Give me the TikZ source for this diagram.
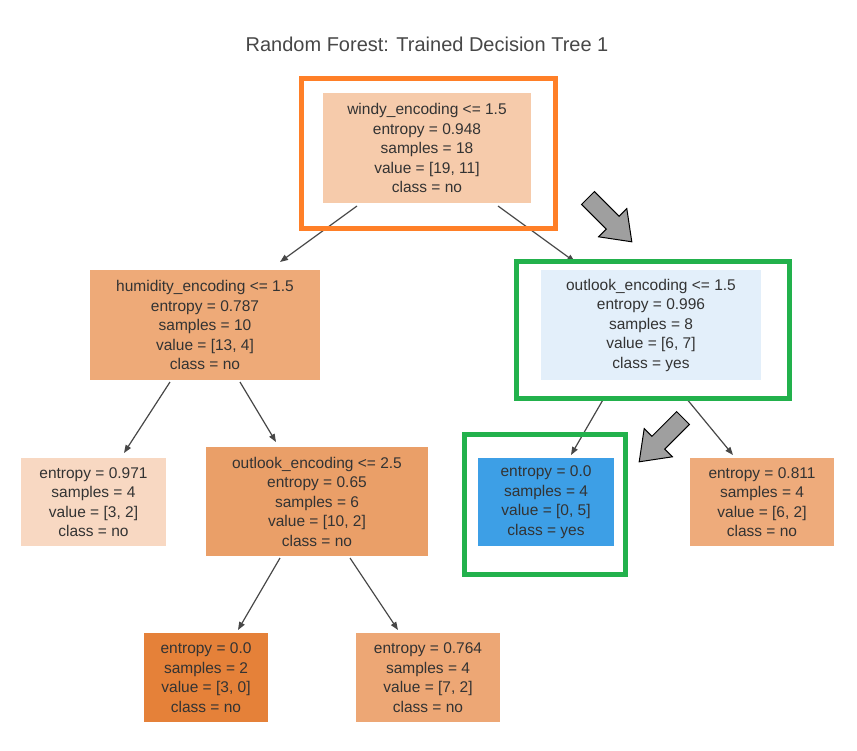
\documentclass[tikz,border=0pt]{standalone}
\usepackage{fontspec}
\setmainfont{Liberation Sans}
\usetikzlibrary{arrows.meta}
\definecolor{txt}{HTML}{333333}
\definecolor{cRoot}{HTML}{F6CBAB}
\definecolor{cHum}{HTML}{EEAA78}
\definecolor{cOut}{HTML}{E3EFFA}
\definecolor{cL1}{HTML}{F8D8C2}
\definecolor{cO25}{HTML}{EA9F68}
\definecolor{cYes}{HTML}{3D9FE6}
\definecolor{cL811}{HTML}{EEAB7B}
\definecolor{cB1}{HTML}{E58139}
\definecolor{cB2}{HTML}{EDA775}
\definecolor{frO}{HTML}{FF7F27}
\definecolor{frG}{HTML}{22B14C}
\tikzset{
 tnode/.style={inner sep=0pt,align=center,text=txt,font=\fontsize{15.5}{19.5}\selectfont},
 edge/.style={draw=txt!90,line width=1.2pt,-{Stealth[length=8pt,width=6pt,inset=0pt]}},
 frame/.style={line width=5pt},
 garrow/.style={fill=gray!75,draw=black,line width=1pt,line join=miter}
}
\begin{document}
\begin{tikzpicture}[x=1pt,y=-1pt]
\useasboundingbox (0,0) rectangle (857,750);
\node[font=\fontsize{20}{24}\selectfont,text=txt!90] (title) at (427,44) {Random Forest: Trained Decision Tree 1};
\newcommand{\tbox}[6]{%
 \fill[#6] (#1,#2) rectangle (#3,#4);
 \node[tnode] (#5) at ({(#1+#3)/2},{(#2+#4)/2}) {};}
\tbox{323}{93}{531}{203}{root}{cRoot}
\tbox{90}{270}{320}{380}{hum}{cHum}
\tbox{541}{270}{761}{380}{out}{cOut}
\tbox{21}{458}{166}{546}{la}{cL1}
\tbox{206}{447}{428}{556}{oo}{cO25}
\tbox{478}{458}{614}{546}{ly}{cYes}
\tbox{690}{458}{834}{546}{lb}{cL811}
\tbox{144}{633}{268}{722}{ba}{cB1}
\tbox{356}{633}{500}{722}{bb}{cB2}
\node[tnode] at (root) {windy\_encoding <= 1.5\\entropy = 0.948\\samples = 18\\value = [19, 11]\\class = no};
\node[tnode] at (hum) {humidity\_encoding <= 1.5\\entropy = 0.787\\samples = 10\\value = [13, 4]\\class = no};
\node[tnode] at (out) {outlook\_encoding <= 1.5\\entropy = 0.996\\samples = 8\\value = [6, 7]\\class = yes};
\node[tnode] at (la) {entropy = 0.971\\samples = 4\\value = [3, 2]\\class = no};
\node[tnode] at (oo) {outlook\_encoding <= 2.5\\entropy = 0.65\\samples = 6\\value = [10, 2]\\class = no};
\node[tnode] at (ly) {entropy = 0.0\\samples = 4\\value = [0, 5]\\class = yes};
\node[tnode] at (lb) {entropy = 0.811\\samples = 4\\value = [6, 2]\\class = no};
\node[tnode] at (ba) {entropy = 0.0\\samples = 2\\value = [3, 0]\\class = no};
\node[tnode] at (bb) {entropy = 0.764\\samples = 4\\value = [7, 2]\\class = no};
\coordinate (s1) at (357,206); \coordinate (e1) at (280,262);
\coordinate (s2) at (498,206); \coordinate (e2) at (575,262);
\coordinate (s3) at (170,382); \coordinate (e3) at (124,453);
\coordinate (s4) at (240,382); \coordinate (e4) at (276,442);
\coordinate (s5) at (604,398); \coordinate (e5) at (571,455);
\coordinate (s6) at (686,398); \coordinate (e6) at (733,455);
\coordinate (s7) at (280,558); \coordinate (e7) at (238,630);
\coordinate (s8) at (350,558); \coordinate (e8) at (398,630);
\foreach \i in {1,...,8} \draw[edge] (s\i) -- (e\i);
\draw[frame,frO] (301,78) rectangle (555,228);
\draw[frame,frG] (516,261) rectangle (789,398);
\draw[frame,frG] (464,434) rectangle (625,574);
\draw[garrow] (594.4,191.6)--(619.1,216.3)--(626.8,208.6)--(631.8,241.8)--(598.6,236.8)--(606.3,229.1)--(581.6,204.4)--cycle;
\draw[garrow] (676.6,411.6)--(651.9,436.3)--(644.2,428.6)--(639.2,461.8)--(672.4,456.8)--(664.7,449.1)--(689.4,424.4)--cycle;
\end{tikzpicture}
\end{document}
